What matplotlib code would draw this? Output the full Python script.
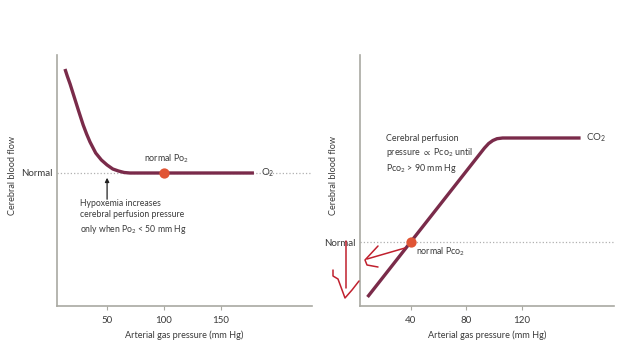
import matplotlib
matplotlib.use("Agg")
import matplotlib.pyplot as plt
from matplotlib.lines import Line2D

plt.rcParams['font.family'] = ['Lato', 'DejaVu Sans']
plt.rcParams['mathtext.default'] = 'regular'

# O2 response curve (left panel)
o2_pressure = [13, 15, 17.5, 20, 22.5, 25, 29, 32, 35, 40, 45, 50, 55, 60, 65, 70, 100, 179]
o2_flow = [237, 230, 222, 213, 204, 195, 181, 172, 164, 153, 146, 141, 137, 135, 133.5, 133, 133, 133]
o2_normal_x = 100
o2_ticks = [50, 100, 150]

# CO2 response curve (right panel)
co2_pressure = [9, 40, 93, 96, 99, 102, 106, 162]
co2_flow = [9, 64, 158, 162.5, 165.5, 167.3, 168, 168]
co2_normal_x = 40
co2_normal_y = 64
co2_ticks = [40, 80, 120]

normal_flow_o2 = 133

# hand drawn red marks, in figure pixels
scribbles = [
    [(346, 241), (346, 288)],
    [(333, 270), (333, 276), (338, 279), (345, 298), (352, 290), (359, 281)],
    [(405, 248), (367, 259)],
    [(378, 246), (365, 260), (367, 265), (378, 267)],
]

curve_color = '#7a2b4a'
dot_color = '#e05535'
axis_color = '#a9a9a2'
text_color = '#3a3a3a'

fig = plt.figure(figsize=(6.4, 3.6), dpi=100)
W, H = 640, 360


def make_axes(left_px, right_px, label_px):
    ax = fig.add_axes([left_px / W, (H - 306) / H, (right_px - left_px) / W, (306 - 55) / H])
    for side in ['top', 'right']:
        ax.spines[side].set_visible(False)
    for side in ['left', 'bottom']:
        ax.spines[side].set_color(axis_color)
        ax.spines[side].set_linewidth(1.2)
    ax.tick_params(axis='x', colors=axis_color, labelcolor=text_color, labelsize=7, length=3, width=0.8, pad=4)
    ax.tick_params(axis='y', length=0, labelcolor=text_color, labelsize=7, pad=3)
    ax.set_ylim(0, 251)
    ax.set_ylabel('Cerebral blood flow', fontsize=6.6, color=text_color)
    ax.yaxis.set_label_coords((label_px - left_px) / (right_px - left_px), 0.52)
    ax.set_xlabel('Arterial gas pressure (mm Hg)', fontsize=6.6, color=text_color, labelpad=4)
    return ax


# left panel
ax1 = make_axes(57, 312, 17)
ax1.set_xlim(6, 230)
ax1.set_xticks(o2_ticks)
ax1.set_yticks([normal_flow_o2])
ax1.set_yticklabels(['Normal'])
ax1.axhline(normal_flow_o2, color='#b0b0b0', linestyle=':', linewidth=0.9, zorder=1)
ax1.plot(o2_pressure, o2_flow, color=curve_color, linewidth=2.4, solid_capstyle='butt', zorder=3)
ax1.scatter([o2_normal_x], [normal_flow_o2], s=55, color=dot_color, zorder=4, linewidths=0)
ax1.text(o2_normal_x + 2, normal_flow_o2 + 8, 'normal Po$_2$', fontsize=6.4, color=text_color, ha='center', va='bottom')
ax1.text(o2_pressure[-1] + 6, normal_flow_o2, 'O$_2$', fontsize=7, color=text_color, ha='left', va='center')
ax1.annotate('', xy=(50, normal_flow_o2 - 2), xytext=(50, normal_flow_o2 - 29),
             arrowprops=dict(arrowstyle='-|>', color='#222222', lw=0.9, mutation_scale=6))
ax1.text(26, normal_flow_o2 - 26,
         'Hypoxemia increases\ncerebral perfusion pressure\nonly when Po$_2$ < 50 mm Hg',
         fontsize=6.2, color=text_color, ha='left', va='top', linespacing=1.35)

# right panel
ax2 = make_axes(360, 614, 338)
ax2.set_xlim(3.6, 186)
ax2.set_xticks(co2_ticks)
ax2.set_yticks([co2_normal_y])
ax2.set_yticklabels(['Normal'])
ax2.axhline(co2_normal_y, color='#b0b0b0', linestyle=':', linewidth=0.9, zorder=1)
ax2.plot(co2_pressure, co2_flow, color=curve_color, linewidth=2.4, solid_capstyle='butt', zorder=3)
ax2.scatter([co2_normal_x], [co2_normal_y], s=55, color=dot_color, zorder=4, linewidths=0)
ax2.text(co2_normal_x + 4, co2_normal_y - 4, 'normal Pco$_2$', fontsize=6.4, color=text_color, ha='left', va='top')
ax2.text(co2_pressure[-1] + 4, co2_flow[-1], 'CO$_2$', fontsize=7, color=text_color, ha='left', va='center')
ax2.text(22, 172,
         'Cerebral perfusion\npressure $\\propto$ Pco$_2$ until\nPco$_2$ > 90 mm Hg',
         fontsize=6.4, color=text_color, ha='left', va='top', linespacing=1.35)

for stroke in scribbles:
    xs = [p[0] / W for p in stroke]
    ys = [1 - p[1] / H for p in stroke]
    fig.add_artist(Line2D(xs, ys, transform=fig.transFigure, color='#c0202e', linewidth=1.1,
                          solid_capstyle='round', solid_joinstyle='round'))

fig.savefig('out.png', dpi=100)
